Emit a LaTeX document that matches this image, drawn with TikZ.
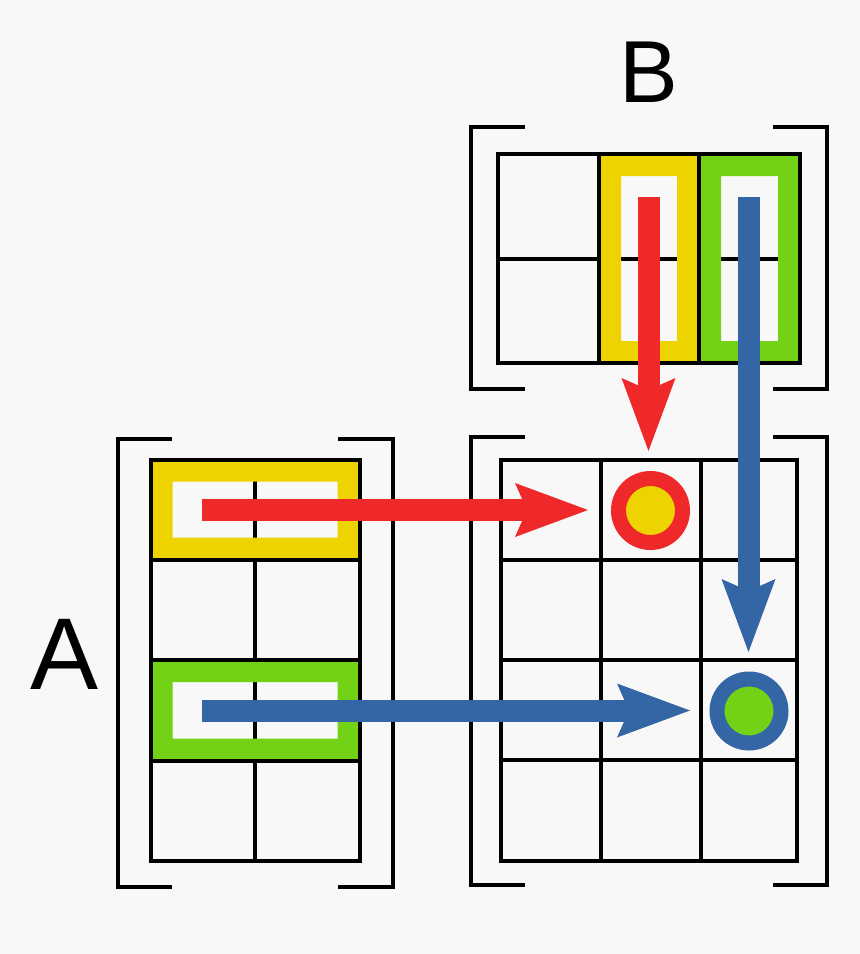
\documentclass[tikz,border=0pt]{standalone}
\usepackage{fontspec}
\setmainfont{Liberation Sans}
\usetikzlibrary{arrows.meta}

\definecolor{bg}{HTML}{F8F8F8}
\definecolor{butter}{HTML}{EDD400}
\definecolor{chameleon}{HTML}{73D216}
\definecolor{scarlet}{HTML}{EF2929}
\definecolor{skyblue}{HTML}{3465A4}

\tikzstyle{gridline} = [line width=4pt]
\tikzstyle{bracket} = [line width=4pt, line join=miter]
\tikzstyle{band} = [even odd rule]
\tikzstyle{arrow} = [line width=22pt, -{Stealth[length=73pt,width=54pt,inset=12pt,line width=0pt]}]
\tikzstyle{dot} = [circle, minimum size=64pt, inner sep=0pt, line width=15pt]
\tikzstyle{letter} = [inner sep=0pt, text=black]

\begin{document}
\begin{tikzpicture}[x=1pt, y=-1pt]
  \fill[bg] (0,0) rectangle (860,954);

  % matrix A
  \draw[gridline] (255,459.5) -- (255,860.5);
  \fill[butter, band] (150.5,459.5) rectangle (359.5,559.5) (172.5,481.5) rectangle (337.5,537.5);
  \fill[chameleon, band] (150.5,660) rectangle (359.5,760.5) (172.5,682) rectangle (337.5,738.5);
  \foreach \y in {559.5,660,760.5}
    \draw[gridline] (150.5,\y) -- (359.5,\y);
  \draw[gridline] (150.5,459.5) rectangle (359.5,860.5);
  \draw[bracket] (172,438.5) -- (118,438.5) -- (118,886.5) -- (172,886.5);
  \draw[bracket] (338,438.5) -- (393,438.5) -- (393,886.5) -- (338,886.5);

  % matrix B
  \draw[gridline] (498,258.5) -- (800,258.5);
  \fill[butter, band] (599,154) rectangle (699,363) (621,176) rectangle (677,341);
  \fill[chameleon, band] (699,154) rectangle (800,363) (721,176) rectangle (778,341);
  \foreach \x in {599,699}
    \draw[gridline] (\x,154) -- (\x,363);
  \draw[gridline] (498,154) rectangle (800,363);
  \draw[bracket] (525,127) -- (471,127) -- (471,389) -- (525,389);
  \draw[bracket] (773,127) -- (827,127) -- (827,389) -- (773,389);

  % product AB
  \foreach \x in {600.5,700.5}
    \draw[gridline] (\x,460) -- (\x,860.5);
  \foreach \y in {560,660,760}
    \draw[gridline] (500.5,\y) -- (797,\y);
  \draw[gridline] (500.5,460) rectangle (797,860.5);
  \draw[bracket] (525,437) -- (471,437) -- (471,885) -- (525,885);
  \draw[bracket] (773,437) -- (827,437) -- (827,885) -- (773,885);

  % entries
  \node[dot, draw=scarlet, fill=butter] (c12) at (650.5,510.5) {};
  \node[dot, draw=skyblue, fill=chameleon] (c33) at (749,711) {};

  \coordinate (rowA1) at (202,510);
  \coordinate (toc12) at (588,510);
  \coordinate (colB2) at (648.5,197);
  \coordinate (downc12) at (648.5,451);
  \coordinate (rowA3) at (202,710.5);
  \coordinate (toc33) at (690,710.5);
  \coordinate (colB3) at (748.5,197);
  \coordinate (downc33) at (748.5,652);

  \draw[arrow, scarlet] (rowA1) -- (toc12);
  \draw[arrow, scarlet] (colB2) -- (downc12);
  \draw[arrow, skyblue] (colB3) -- (downc33);
  \draw[arrow, skyblue] (rowA3) -- (toc33);

  \node[letter, font=\fontsize{88}{88}\selectfont] (labB) at (648.5,72.5) {B};
  \node[letter, font=\fontsize{102}{102}\selectfont] (labA) at (65,654) {A};
\end{tikzpicture}
\end{document}
